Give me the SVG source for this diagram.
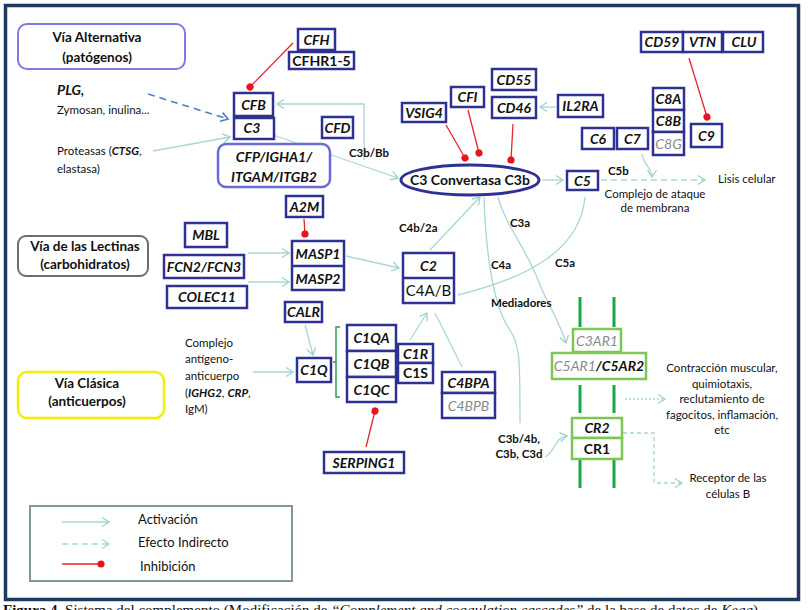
<svg xmlns="http://www.w3.org/2000/svg" width="812" height="610" viewBox="0 0 812 610">
  <style>
    text { font-family: Lato, "Liberation Sans", "DejaVu Sans", sans-serif; fill: #111; }
    .box { fill: #fff; stroke: #2e3192; stroke-width: 2.5; }
    .gbox { fill: #fff; stroke: #7cc653; stroke-width: 2.5; }
    .gn { font-weight: bold; font-style: italic; font-size: 14px; text-anchor: middle; }
    .gr { font-weight: bold; font-size: 14px; text-anchor: middle; }
    .grey { fill: #8a8a8a; font-weight: normal; }
    .lbl { font-weight: bold; font-size: 11.5px; }
    .note { font-size: 11.5px; }
    .path { font-weight: bold; font-size: 13.5px; text-anchor: middle; }
    .act { fill: none; stroke: #a9d6d6; stroke-width: 1.3; }
    .arr { marker-end: url(#ah); }
    .dash { stroke-dasharray: 6 4; }
    .inh { fill: none; stroke: #e3262b; stroke-width: 1.3; marker-end: url(#dot); }
    .mem { stroke: #1aa64a; stroke-width: 3; }
  </style>
  <defs>
    <marker id="ah" markerUnits="userSpaceOnUse" markerWidth="12" markerHeight="12" refX="9" refY="6" orient="auto">
      <path d="M2,1.5 L9,6 L2,10.5" fill="none" stroke="#9fd0d0" stroke-width="1.3"/>
    </marker>
    <marker id="ahb" markerUnits="userSpaceOnUse" markerWidth="12" markerHeight="12" refX="9" refY="6" orient="auto">
      <path d="M2,1.5 L9,6 L2,10.5" fill="none" stroke="#4a7fc0" stroke-width="1.6"/>
    </marker>
    <marker id="dot" markerUnits="userSpaceOnUse" markerWidth="10" markerHeight="10" refX="5" refY="5" orient="auto">
      <circle cx="5" cy="5" r="3.6" fill="#e8141c"/>
    </marker>
  </defs>

  <rect x="0" y="0" width="812" height="610" fill="#fff"/>
  <!-- outer frame -->
  <rect x="5.5" y="5.5" width="793" height="594" fill="none" stroke="#1f3a5f" stroke-width="3.5"/>

  <!-- connectors -->
  <g id="connectors">
    <path d="M148,94 L228,119" fill="none" stroke="#4a7fc0" stroke-width="1.6" stroke-dasharray="7 5" marker-end="url(#ahb)"/>
    <path class="act arr" d="M153,151 L230,137"/>
    <path class="act arr" d="M273,135 L398,178" stroke="#9ab8e0"/>
    <path class="act arr" d="M364,160 V104 H277"/>
    <path class="act arr" d="M542,180 H563"/>
    <path class="act arr dash" d="M601,180 H705"/>
    <path class="act arr" d="M642,154 C644,166 652,168 652,177"/>
    <path class="act arr" d="M556,107 H540"/>
    <path class="act arr" d="M248,253 H289"/>
    <path class="act arr" d="M248,282 H289"/>
    <path class="act arr" d="M253,372 H293"/>
    <path class="act arr" d="M305,325 L313,355"/>
    <path class="act arr" d="M346,256 L399,268"/>
    <path class="act arr" d="M430,250 L480,197"/>
    <path class="act arr" d="M410,340 L427,313"/>
    <path class="act" d="M435,313 L462,367"/>
    <path class="act" d="M458,295 C510,282 580,258 585,197"/>
    <path class="act" d="M484,197 C486,260 495,310 510,330 C520,345 520,360 520,423"/>
    <path class="act arr" d="M498,197 C505,225 525,245 540,285 C548,305 560,322 566,343"/>
    <path class="act arr" d="M545,457 C556,452 553,438 567,436"/>
    <path class="act arr" d="M625,399 H665" stroke-dasharray="2 2"/>
    <path class="act arr" d="M623,433 H654 V483 H682" stroke="#c7d9d9" stroke-dasharray="4 3"/>

    <!-- inhibitions -->
    <path class="inh" d="M293,43 L250,87"/>
    <path class="inh" d="M446,125 L465,158"/>
    <path class="inh" d="M468,110 L479,153"/>
    <path class="inh" d="M513,124 L511,160"/>
    <path class="inh" d="M689,58 L707,117"/>
    <path class="inh" d="M304,219 L305,234"/>
    <path class="inh" d="M366,447 L375,411"/>

    <!-- C1q bracket -->
    <path d="M340,327 H336 V397 H340 M336,362 H333" fill="none" stroke="#2ca05a" stroke-width="1.5"/>

    <!-- membrane -->
    <path class="mem" d="M580,297 V327 M614,297 V327 M580,385 V413 M614,385 V413 M580,459 V488 M614,459 V488"/>
  </g>

  <!-- pathway labels -->
  <g id="via-alternativa">
    <rect x="18" y="24" width="167" height="45" rx="9" fill="#fff" stroke="#7b7be0" stroke-width="2"/>
    <text class="path" x="97" y="42">Vía Alternativa</text>
    <text class="path" x="97" y="62">(patógenos)</text>
  </g>
  <g id="via-lectinas">
    <rect x="18" y="236" width="130" height="40" rx="8" fill="#fff" stroke="#6d6d6d" stroke-width="2"/>
    <text class="path" x="85" y="251">Vía de las Lectinas</text>
    <text class="path" x="85" y="269">(carbohidratos)</text>
  </g>
  <g id="via-clasica">
    <rect x="18" y="372" width="146" height="46" rx="9" fill="#fff" stroke="#f0f000" stroke-width="2.5"/>
    <text class="path" x="87" y="388">Vía Clásica</text>
    <text class="path" x="87" y="406">(anticuerpos)</text>
  </g>

  <!-- free texts -->
  <g id="activators">
    <text x="57" y="95" font-weight="bold" font-style="italic" font-size="14">PLG,</text>
    <text class="note" x="57" y="114">Zymosan, inulina...</text>
    <text class="note" x="57" y="155">Proteasas (<tspan font-weight="bold" font-style="italic">CTSG</tspan>,</text>
    <text class="note" x="57" y="173">elastasa)</text>
    <text class="note" x="185" y="347">Complejo</text>
    <text class="note" x="185" y="363">antígeno-</text>
    <text class="note" x="185" y="380">anticuerpo</text>
    <text class="note" x="185" y="397">(<tspan font-weight="bold" font-style="italic">IGHG2</tspan>, <tspan font-weight="bold" font-style="italic">CRP</tspan>,</text>
    <text class="note" x="185" y="413">IgM)</text>
  </g>
  <g id="labels">
    <text class="lbl" x="349" y="157">C3b/Bb</text>
    <text class="lbl" x="608" y="175">C5b</text>
    <text class="lbl" x="399" y="232">C4b/2a</text>
    <text class="lbl" x="510" y="227">C3a</text>
    <text class="lbl" x="491" y="269">C4a</text>
    <text class="lbl" x="491" y="307">Mediadores</text>
    <text class="lbl" x="555" y="267">C5a</text>
    <text class="lbl" x="519" y="443" text-anchor="middle">C3b/4b,</text>
    <text class="lbl" x="519" y="458" text-anchor="middle">C3b, C3d</text>
  </g>
  <g id="outcomes">
    <text class="note" x="718" y="183" font-size="12">Lisis celular</text>
    <text class="note" x="655" y="198" text-anchor="middle">Complejo de ataque</text>
    <text class="note" x="655" y="212" text-anchor="middle">de membrana</text>
    <text class="note" x="722" y="372" text-anchor="middle" font-size="12">Contracción muscular,</text>
    <text class="note" x="722" y="388" text-anchor="middle" font-size="12">quimiotaxis,</text>
    <text class="note" x="722" y="403" text-anchor="middle" font-size="12">reclutamiento de</text>
    <text class="note" x="722" y="419" text-anchor="middle" font-size="12">fagocitos, inflamación,</text>
    <text class="note" x="722" y="434" text-anchor="middle" font-size="12">etc</text>
    <text class="note" x="728" y="482" text-anchor="middle" font-size="12">Receptor de las</text>
    <text class="note" x="728" y="498" text-anchor="middle" font-size="12">células B</text>
  </g>

  <!-- gene nodes -->
  <g id="CFH"><rect class="box" x="298" y="29" width="37" height="21"/><text class="gn" x="316.5" y="44.5">CFH</text></g>
  <g id="CFHR1-5"><rect class="box" x="289" y="52" width="65" height="17"/><text class="gr" x="321.5" y="65.5">CFHR1-5</text></g>
  <g id="CFB"><rect class="box" x="234" y="93" width="39" height="23"/><text class="gn" x="253.5" y="109.5">CFB</text></g>
  <g id="C3"><rect class="box" x="234" y="118" width="40" height="21"/><text class="gn" x="252" y="133">C3</text></g>
  <g id="CFD"><rect class="box" x="322" y="117" width="31" height="21"/><text class="gn" x="337.5" y="132.5">CFD</text></g>
  <g id="CFP">
    <rect x="218" y="144" width="112" height="43" rx="8" fill="#fff" stroke="#6b6bd6" stroke-width="2.5"/>
    <text class="gn" x="274" y="162" font-size="16">CFP/IGHA1/</text>
    <text class="gn" x="274" y="182" font-size="16">ITGAM/ITGB2</text>
  </g>
  <g id="C3-convertasa">
    <ellipse cx="470" cy="180" rx="69" ry="15" fill="#fff" stroke="#2e3192" stroke-width="3"/>
    <text class="gr" x="470" y="185" font-size="15">C3 Convertasa C3b</text>
  </g>
  <g id="VSIG4"><rect class="box" x="402" y="103" width="44" height="19"/><text class="gn" x="424" y="117.5" font-size="13">VSIG4</text></g>
  <g id="CFI"><rect class="box" x="451" y="87" width="33" height="20"/><text class="gn" x="467.5" y="102">CFI</text></g>
  <g id="CD55"><rect class="box" x="492" y="69" width="44" height="21"/><text class="gn" x="514" y="84.5">CD55</text></g>
  <g id="CD46"><rect class="box" x="492" y="97" width="44" height="21"/><text class="gn" x="514" y="112.5">CD46</text></g>
  <g id="IL2RA"><rect class="box" x="558" y="95" width="45" height="22"/><text class="gn" x="580.5" y="111">IL2RA</text></g>
  <g id="CD59"><rect class="box" x="641" y="32" width="42" height="20"/><text class="gn" x="662" y="47">CD59</text></g>
  <g id="VTN"><rect class="box" x="683" y="32" width="39" height="20"/><text class="gn" x="702.5" y="47">VTN</text></g>
  <g id="CLU"><rect class="box" x="723" y="32" width="40" height="20"/><text class="gn" x="744" y="47">CLU</text></g>
  <g id="C8A"><rect class="box" x="653" y="88" width="31" height="22"/><text class="gn" x="668.5" y="104">C8A</text></g>
  <g id="C8B"><rect class="box" x="653" y="110" width="31" height="22"/><text class="gn" x="668.5" y="126">C8B</text></g>
  <g id="C8G"><rect class="box" x="653" y="132" width="31" height="23"/><text class="gn grey" x="668.5" y="148.5">C8G</text></g>
  <g id="C6"><rect class="box" x="582" y="128" width="32" height="21"/><text class="gn" x="598" y="143.5">C6</text></g>
  <g id="C7"><rect class="box" x="617" y="128" width="31" height="21"/><text class="gn" x="632.5" y="143.5">C7</text></g>
  <g id="C9"><rect class="box" x="691" y="124" width="31" height="23"/><text class="gn" x="706.5" y="140.5">C9</text></g>
  <g id="C5"><rect class="box" x="567" y="171" width="31" height="19"/><text class="gn" x="582.5" y="185.5">C5</text></g>

  <g id="MBL"><rect class="box" x="185" y="223" width="42" height="24"/><text class="gn" x="206" y="240">MBL</text></g>
  <g id="FCN2-FCN3"><rect class="box" x="164" y="255" width="80" height="23"/><text class="gn" x="204" y="271.5">FCN2/FCN3</text></g>
  <g id="COLEC11"><rect class="box" x="167" y="286" width="80" height="22"/><text class="gn" x="207" y="302">COLEC11</text></g>
  <g id="A2M"><rect class="box" x="286" y="196" width="37" height="21"/><text class="gn" x="304.5" y="211.5">A2M</text></g>
  <g id="MASP">
    <rect class="box" x="292" y="241" width="52" height="49"/>
    <line x1="292" y1="266" x2="344" y2="266" stroke="#2e3192" stroke-width="2.5"/>
    <text class="gn" x="318" y="259">MASP1</text>
    <text class="gn" x="318" y="283.5">MASP2</text>
  </g>
  <g id="CALR"><rect class="box" x="285" y="302" width="37" height="20"/><text class="gn" x="303.5" y="317">CALR</text></g>
  <g id="C1Q"><rect class="box" x="297" y="358" width="34" height="24"/><text class="gn" x="314" y="375">C1Q</text></g>
  <g id="C1QA"><rect class="box" x="347" y="325" width="49" height="26"/><text class="gn" x="371.5" y="343">C1QA</text></g>
  <g id="C1QB"><rect class="box" x="347" y="351" width="49" height="26"/><text class="gn" x="371.5" y="369">C1QB</text></g>
  <g id="C1QC"><rect class="box" x="347" y="377" width="49" height="25"/><text class="gn" x="371.5" y="394.5">C1QC</text></g>
  <g id="C1R"><rect class="box" x="398" y="344" width="35" height="19"/><text class="gn" x="415.5" y="358.5">C1R</text></g>
  <g id="C1S"><rect class="box" x="398" y="363" width="35" height="20"/><text class="gr" x="415.5" y="378">C1S</text></g>
  <g id="C2-C4">
    <rect class="box" x="403" y="253" width="51" height="50"/>
    <line x1="403" y1="278" x2="454" y2="278" stroke="#2e3192" stroke-width="2.5"/>
    <text class="gn" x="428.5" y="271">C2</text>
    <text x="428.5" y="296" font-size="15" text-anchor="middle" fill="#8a8a8a">C4A/B</text>
  </g>
  <g id="C4BPA"><rect class="box" x="442" y="372" width="53" height="21"/><text class="gn" x="468.5" y="387.5">C4BPA</text></g>
  <g id="C4BPB"><rect class="box" x="442" y="393" width="53" height="25"/><text class="gn grey" x="468.5" y="410.5">C4BPB</text></g>
  <g id="SERPING1"><rect class="box" x="324" y="452" width="80" height="21"/><text class="gn" x="364" y="467.5">SERPING1</text></g>

  <g id="C3AR1"><rect class="gbox" x="573" y="329" width="48" height="23"/><text class="gn grey" x="597" y="346">C3AR1</text></g>
  <g id="C5AR"><rect class="gbox" x="552" y="353" width="94" height="26"/><text class="gn" x="599" y="371"><tspan class="grey">C5AR1</tspan>/C5AR2</text></g>
  <g id="CR2"><rect class="gbox" x="572" y="418" width="50" height="20"/><text class="gn" x="597" y="433">CR2</text></g>
  <g id="CR1"><rect class="gbox" x="572" y="438" width="50" height="21"/><text class="gr" x="597" y="453.5">CR1</text></g>

  <!-- legend -->
  <g id="legend">
    <rect x="30" y="506" width="262" height="75" fill="#fff" stroke="#7f9898" stroke-width="2"/>
    <path class="act arr" d="M62,522 H109"/>
    <path class="act arr dash" d="M62,544 H109" stroke-dasharray="5 4"/>
    <path class="inh" d="M62,564 H101"/>
    <text x="138" y="524" font-size="13">Activación</text>
    <text x="138" y="547" font-size="13">Efecto Indirecto</text>
    <text x="140" y="571" font-size="13">Inhibición</text>
  </g>

  <!-- caption, cut at the lower edge -->
  <text x="3" y="615" font-family="'Liberation Serif', serif" font-size="15" style="font-family:'Liberation Serif', serif"><tspan font-weight="bold">Figura 4.</tspan> Sistema del complemento (Modificación de <tspan font-style="italic">“Complement and coagulation cascades”</tspan> de la base de datos de <tspan font-style="italic">Kegg</tspan>).</text>
</svg>
